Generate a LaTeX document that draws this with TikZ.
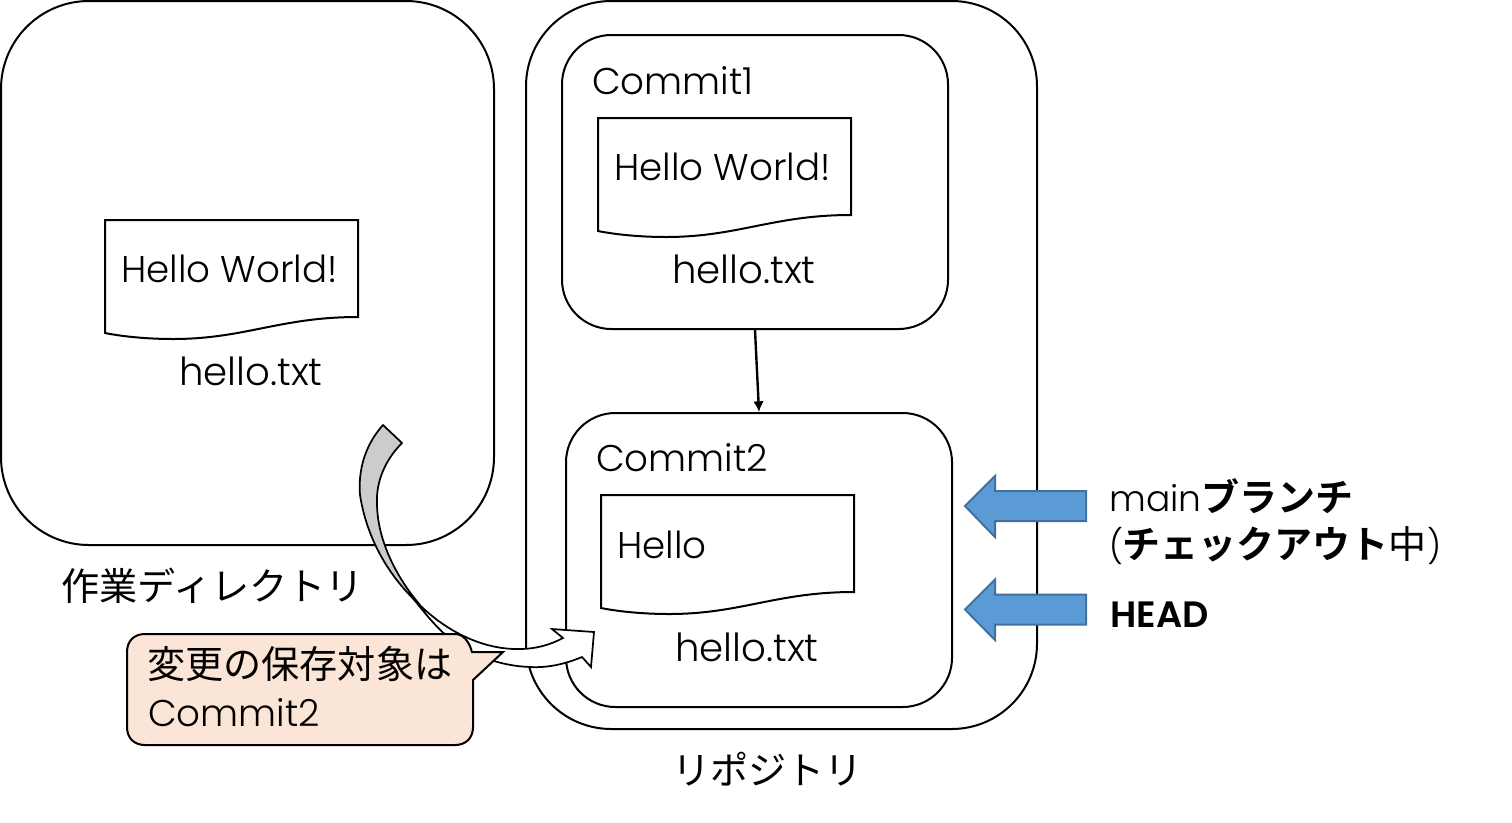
\documentclass[tikz,border=0pt]{standalone}
\usepackage{fontspec}
\usetikzlibrary{arrows.meta}
\setmainfont{Poppins Light}
\newfontfamily\cjk{Noto Sans CJK JP}
\newfontfamily\cjkb{Noto Sans CJK JP Bold}
\newfontfamily\latb{Poppins SemiBold}
\definecolor{calloutfill}{HTML}{FBE5D6}
\definecolor{bluefill}{HTML}{5B9BD5}
\definecolor{bluedraw}{HTML}{41719C}
\definecolor{grayfill}{HTML}{CCCCCC}
\tikzset{
  box/.style={draw=black,line width=1.5pt,fill=white,inner sep=0pt},
  lab/.style={anchor=base west,inner sep=0pt,font=\fontsize{27.9}{32}\selectfont,text=black},
  filelab/.style={lab,font=\fontsize{29}{32}\selectfont},
  jlab/.style={anchor=base west,inner sep=0pt,font=\cjk\fontsize{28.6}{32}\selectfont,text=black},
  ptr/.style={draw=bluedraw,line width=1.5pt,fill=bluefill,line join=miter},
  outl/.style={draw=black,line width=1.3pt,line join=miter},
  docpic/.pic={
    \draw[outl,line width=1.5pt,fill=white] (0,0) -- (253,0) -- (253,97)
      .. controls (175,97) and (140,119) .. (68,119)
      .. controls (45,119) and (20,117) .. (0,113) -- cycle;
  }
}
\begin{document}
\begin{tikzpicture}[x=0.75pt,y=-0.75pt]
\useasboundingbox (0,0) rectangle (1512,822);
\fill[white] (0,0) rectangle (1512,822);
% containers
\node[box,minimum width=369.75pt,minimum height=408pt,rounded corners=66pt] (work) at (247.5,273) {};
\node[box,minimum width=383.25pt,minimum height=546pt,rounded corners=64pt] (repo) at (781.5,365) {};
\node[box,minimum width=289.5pt,minimum height=220.5pt,rounded corners=37pt] (commit1) at (755,182) {};
\node[box,minimum width=289.5pt,minimum height=220.5pt,rounded corners=37pt] (commit2) at (759,560) {};
\draw[line width=1.8pt,-{Latex[length=8pt,width=8pt]}] (commit1.south) -- (commit2.north);
% documents
\pic at (105,220) {docpic};
\pic at (598,118) {docpic};
\pic at (601,495) {docpic};
% blue pointers
\coordinate (ptrA) at (1086,506);
\coordinate (ptrB) at (1086,609.5);
\draw[ptr] (ptrA) ++(0,-15) -- ++(-91,0) -- ++(0,-15) -- (965,506) -- (995,537) -- (995,521) -- (1086,521) -- cycle;
\draw[ptr] (ptrB) ++(0,-15) -- ++(-91,0) -- ++(0,-15) -- (965,609.5) -- (995,640) -- (995,624.5) -- (1086,624.5) -- cycle;
% curved arrow
\draw[outl,fill=white] (412,597)
  .. controls (440,628) and (480,650) .. (520,649)
  .. controls (535,649) and (550,645) .. (563,638)
  -- (552,629) -- (594,632) -- (591,667) -- (582,657)
  .. controls (565,664) and (548,668) .. (530,667)
  .. controls (500,666) and (470,655) .. (447,636)
  .. controls (435,626) and (424,612) .. (412,597) -- cycle;
\draw[outl,fill=grayfill] (383,425) -- (402,443)
  .. controls (385,460) and (376,482) .. (377,503)
  .. controls (377,535) and (392,572) .. (420,605)
  .. controls (390,578) and (367,540) .. (360,495)
  .. controls (358,470) and (365,445) .. (383,425) -- cycle;
% callout
\draw[outl,line width=1.5pt,fill=calloutfill] (145,634) -- (455,634)
  .. controls (463,634) and (469,641) .. (472,652)
  -- (503,652) -- (473,680) -- (473,727)
  .. controls (473,738) and (466,745) .. (455,745) -- (145,745)
  .. controls (134,745) and (127,738) .. (127,727) -- (127,652)
  .. controls (127,641) and (134,634) .. (145,634) -- cycle;
% texts
\node[lab] (t1) at (121,282) {Hello World!};
\node[filelab] (t2) at (179,385) {hello.txt};
\node[lab] (t3) at (592,94) {Commit1};
\node[lab] (t4) at (614,180) {Hello World!};
\node[filelab] (t5) at (672,283) {hello.txt};
\node[lab] (t6) at (596,471) {Commit2};
\node[lab] (t7) at (617,558) {Hello};
\node[filelab] (t8) at (675,661) {hello.txt};
\node[lab] (t9) at (148,726) {Commit2};
\node[jlab] (t10) at (61,600) {作業ディレクトリ};
\node[jlab] (t11) at (672,784) {リポジトリ};
\node[jlab] (t12) at (147,678) {変更の保存対象は};
\node[lab,font=\fontsize{27}{32}\selectfont] (t13) at (1109,511) {main{\cjkb\fontsize{28.5}{32}\selectfont ブランチ}};
\node[lab,font=\fontsize{25}{32}\selectfont] (t14) at (1112,558) {\kern-2pt({\kern-1pt\cjkb\fontsize{28.5}{32}\selectfont チェックアウト}{\cjk\fontsize{28.5}{32}\selectfont 中}\kern1pt)};
\node[lab,font=\latb\fontsize{27.5}{30}\selectfont] (t15) at (1110,627) {HEAD};
\end{tikzpicture}
\end{document}
